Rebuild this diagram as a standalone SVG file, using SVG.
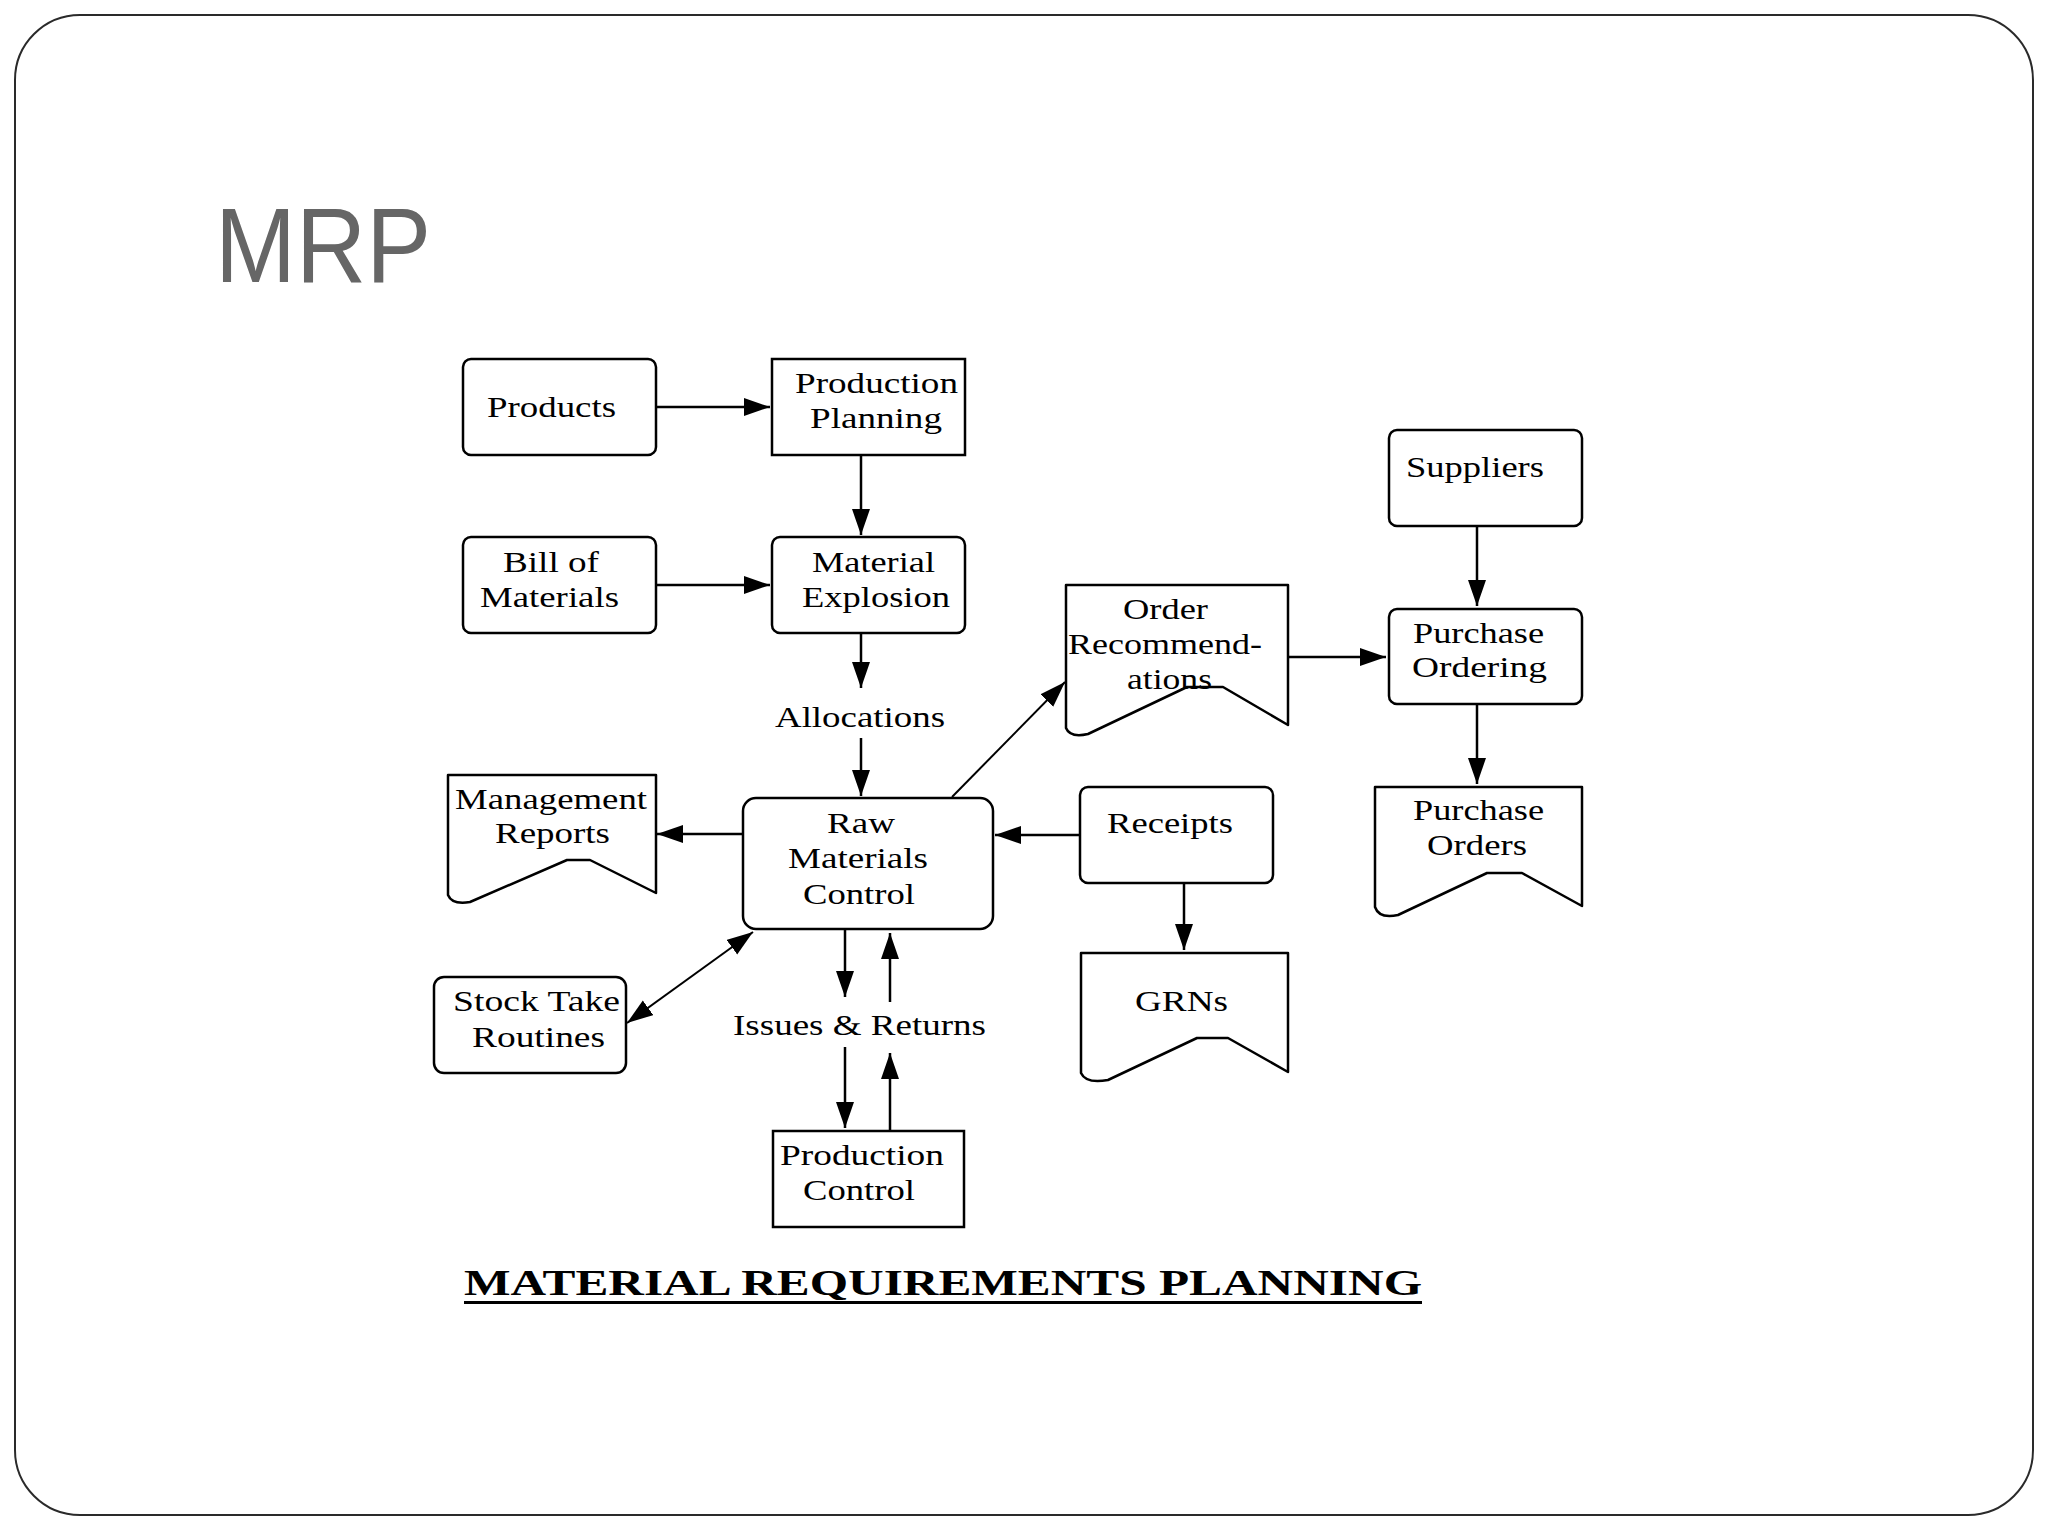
<svg xmlns="http://www.w3.org/2000/svg" width="2048" height="1536" viewBox="0 0 2048 1536">
<defs>
<style>
.frame{fill:#ffffff;stroke:#2a2a2a;stroke-width:2}
.box{fill:#ffffff;stroke:#000;stroke-width:2.5}
.doc{fill:#ffffff;stroke:#000;stroke-width:2.5;stroke-linejoin:round}
.lbl{font-family:"Liberation Serif","Times New Roman",serif;font-size:30px;fill:#000}
.conn line{stroke:#000;stroke-width:2.5}
.conn line.diag{stroke-width:2}
.title{font-family:"Liberation Sans",Arial,sans-serif;font-size:106px;fill:#666666}
.caption{font-family:"Liberation Serif","Times New Roman",serif;font-size:35px;font-weight:bold;fill:#000}
</style>
<marker id="ah" markerUnits="userSpaceOnUse" markerWidth="30" markerHeight="20" refX="26" refY="9" orient="auto-start-reverse">
<path d="M0,0 L26,9 L0,18 Z" fill="#000"/>
</marker>
</defs>

<rect class="frame" x="15" y="15" width="2018" height="1500" rx="65" ry="65"/>
<text class="title" x="215" y="282" textLength="216" lengthAdjust="spacingAndGlyphs">MRP</text>

<g id="products">
<rect class="box" x="463" y="359" width="193" height="96" rx="8"/>
<text class="lbl" x="487" y="417" textLength="129" lengthAdjust="spacingAndGlyphs">Products</text>
</g>
<g id="production-planning">
<rect class="box" x="772" y="359" width="193" height="96"/>
<text class="lbl" x="795" y="393" textLength="163" lengthAdjust="spacingAndGlyphs">Production</text>
<text class="lbl" x="810" y="428" textLength="132" lengthAdjust="spacingAndGlyphs">Planning</text>
</g>
<g id="bill-of-materials">
<rect class="box" x="463" y="537" width="193" height="96" rx="8"/>
<text class="lbl" x="503" y="572" textLength="96" lengthAdjust="spacingAndGlyphs">Bill of</text>
<text class="lbl" x="480" y="607" textLength="139" lengthAdjust="spacingAndGlyphs">Materials</text>
</g>
<g id="material-explosion">
<rect class="box" x="772" y="537" width="193" height="96" rx="8"/>
<text class="lbl" x="812" y="572" textLength="123" lengthAdjust="spacingAndGlyphs">Material</text>
<text class="lbl" x="802" y="607" textLength="148" lengthAdjust="spacingAndGlyphs">Explosion</text>
</g>
<g id="allocations">
<text class="lbl" x="775" y="727" textLength="170" lengthAdjust="spacingAndGlyphs">Allocations</text>
</g>
<g id="management-reports">
<path class="doc" d="M448,775 H656 V893 L590,860 H567 L470,902 Q452,905 448,895 Z"/>
<text class="lbl" x="455" y="809" textLength="192" lengthAdjust="spacingAndGlyphs">Management</text>
<text class="lbl" x="495" y="843" textLength="115" lengthAdjust="spacingAndGlyphs">Reports</text>
</g>
<g id="raw-materials-control">
<rect class="box" x="743" y="798" width="250" height="131" rx="13"/>
<text class="lbl" x="827" y="833" textLength="68" lengthAdjust="spacingAndGlyphs">Raw</text>
<text class="lbl" x="788" y="868" textLength="140" lengthAdjust="spacingAndGlyphs">Materials</text>
<text class="lbl" x="803" y="904" textLength="112" lengthAdjust="spacingAndGlyphs">Control</text>
</g>
<g id="stock-take-routines">
<rect class="box" x="434" y="977" width="192" height="96" rx="10"/>
<text class="lbl" x="453" y="1011" textLength="167" lengthAdjust="spacingAndGlyphs">Stock Take</text>
<text class="lbl" x="472" y="1047" textLength="133" lengthAdjust="spacingAndGlyphs">Routines</text>
</g>
<g id="issues-returns">
<text class="lbl" x="733" y="1035" textLength="253" lengthAdjust="spacingAndGlyphs">Issues &amp; Returns</text>
</g>
<g id="production-control">
<rect class="box" x="773" y="1131" width="191" height="96"/>
<text class="lbl" x="780" y="1165" textLength="164" lengthAdjust="spacingAndGlyphs">Production</text>
<text class="lbl" x="803" y="1200" textLength="112" lengthAdjust="spacingAndGlyphs">Control</text>
</g>
<g id="order-recommendations">
<path class="doc" d="M1066,585 H1288 V725 L1223,687 H1187 L1088,734 Q1070,738 1066,728 Z"/>
<text class="lbl" x="1123" y="619" textLength="85" lengthAdjust="spacingAndGlyphs">Order</text>
<text class="lbl" x="1068" y="654" textLength="194" lengthAdjust="spacingAndGlyphs">Recommend-</text>
<text class="lbl" x="1127" y="689" textLength="85" lengthAdjust="spacingAndGlyphs">ations</text>
</g>
<g id="receipts">
<rect class="box" x="1080" y="787" width="193" height="96" rx="8"/>
<text class="lbl" x="1107" y="833" textLength="126" lengthAdjust="spacingAndGlyphs">Receipts</text>
</g>
<g id="grns">
<path class="doc" d="M1081,953 H1288 V1072 L1228,1038 H1197 L1108,1080 Q1086,1084 1081,1073 Z"/>
<text class="lbl" x="1135" y="1011" textLength="93" lengthAdjust="spacingAndGlyphs">GRNs</text>
</g>
<g id="suppliers">
<rect class="box" x="1389" y="430" width="193" height="96" rx="8"/>
<text class="lbl" x="1406" y="477" textLength="138" lengthAdjust="spacingAndGlyphs">Suppliers</text>
</g>
<g id="purchase-ordering">
<rect class="box" x="1389" y="609" width="193" height="95" rx="8"/>
<text class="lbl" x="1413" y="643" textLength="131" lengthAdjust="spacingAndGlyphs">Purchase</text>
<text class="lbl" x="1412" y="677" textLength="135" lengthAdjust="spacingAndGlyphs">Ordering</text>
</g>
<g id="purchase-orders">
<path class="doc" d="M1375,787 H1582 V906 L1522,873 H1487 L1398,915 Q1379,919 1375,907 Z"/>
<text class="lbl" x="1413" y="820" textLength="131" lengthAdjust="spacingAndGlyphs">Purchase</text>
<text class="lbl" x="1427" y="855" textLength="100" lengthAdjust="spacingAndGlyphs">Orders</text>
</g>

<g id="connectors" class="conn">
<line x1="656" y1="407" x2="770" y2="407" marker-end="url(#ah)"/>
<line x1="656" y1="585" x2="770" y2="585" marker-end="url(#ah)"/>
<line x1="861" y1="455" x2="861" y2="535" marker-end="url(#ah)"/>
<line x1="861" y1="633" x2="861" y2="688" marker-end="url(#ah)"/>
<line x1="861" y1="738" x2="861" y2="796" marker-end="url(#ah)"/>
<line x1="743" y1="834" x2="657" y2="834" marker-end="url(#ah)"/>
<line x1="1080" y1="835" x2="995" y2="835" marker-end="url(#ah)"/>
<line class="diag" x1="952" y1="797" x2="1065" y2="682" marker-end="url(#ah)"/>
<line class="diag" x1="627" y1="1023" x2="753" y2="932" marker-start="url(#ah)" marker-end="url(#ah)"/>
<line x1="845" y1="929" x2="845" y2="997" marker-end="url(#ah)"/>
<line x1="890" y1="1002" x2="890" y2="933" marker-end="url(#ah)"/>
<line x1="845" y1="1047" x2="845" y2="1128" marker-end="url(#ah)"/>
<line x1="890" y1="1131" x2="890" y2="1053" marker-end="url(#ah)"/>
<line x1="1288" y1="657" x2="1386" y2="657" marker-end="url(#ah)"/>
<line x1="1477" y1="526" x2="1477" y2="606" marker-end="url(#ah)"/>
<line x1="1477" y1="704" x2="1477" y2="784" marker-end="url(#ah)"/>
<line x1="1184" y1="883" x2="1184" y2="950" marker-end="url(#ah)"/>
</g>

<text class="caption" x="464" y="1295" textLength="958" lengthAdjust="spacingAndGlyphs">MATERIAL REQUIREMENTS PLANNING</text>
<rect x="464" y="1301" width="958" height="3" fill="#000"/>
</svg>
